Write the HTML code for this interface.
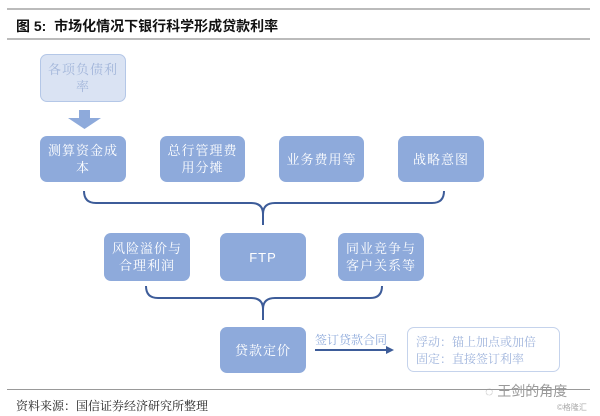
<!DOCTYPE html>
<html><head><meta charset="utf-8"><style>
body{margin:0;width:600px;height:416px;background:#fff;position:relative;overflow:hidden;font-family:"Liberation Sans","Noto Sans CJK SC",sans-serif}
.b{position:absolute;background:#8eaadb;border-radius:7px;color:#fff;font-family:"Liberation Serif","Noto Serif CJK SC",serif;font-size:13px;line-height:17px;display:flex;align-items:center;justify-content:center;text-align:center;letter-spacing:1px}
.t{position:absolute;white-space:nowrap}
</style></head><body>
<div style="position:absolute;left:7px;top:8px;width:583px;height:2px;background:#bbb"></div>
<div class="t" style="left:16px;top:16px;font-size:14px;font-weight:bold;color:#111">图 5:&nbsp; 市场化情况下银行科学形成贷款利率</div>
<div style="position:absolute;left:7px;top:38px;width:583px;height:2px;background:#bbb"></div>

<div class="b" style="left:40px;top:54px;width:84px;height:46px;background:#dae3f3;border:1px solid #b4c7e7;color:#a3b6da">各项负债利<br>率</div>
<svg style="position:absolute;left:0;top:0" width="600" height="416">
<polygon points="79,110 90,110 90,118 101,118 84.5,129 68,118 79,118" fill="#8eaadb"/>
<g fill="none" stroke="#3d5c99" stroke-width="2">
<path d="M84,191 Q84,203 96,203 L251,203 Q263,203 263,214 Q263,203 275,203 L432,203 Q444,203 444,191"/>
<line x1="263" y1="214" x2="263" y2="225"/>
<path d="M146,286 Q146,298 158,298 L251,298 Q263,298 263,309 Q263,298 275,298 L370,298 Q382,298 382,286"/>
<line x1="263" y1="309" x2="263" y2="320"/>
</g>
<line x1="315" y1="350" x2="388" y2="350" stroke="#3d5c99" stroke-width="2"/>
<polygon points="386,346 394,350 386,354" fill="#3d5c99"/>
</svg>
<div class="b" style="left:40px;top:136px;width:86px;height:46px">测算资金成<br>本</div>
<div class="b" style="left:160px;top:136px;width:85px;height:46px">总行管理费<br>用分摊</div>
<div class="b" style="left:279px;top:136px;width:85px;height:46px">业务费用等</div>
<div class="b" style="left:398px;top:136px;width:86px;height:46px">战略意图</div>
<div class="b" style="left:104px;top:233px;width:86px;height:48px">风险溢价与<br>合理利润</div>
<div class="b" style="left:220px;top:233px;width:86px;height:48px;font-family:'Liberation Sans',sans-serif">FTP</div>
<div class="b" style="left:338px;top:233px;width:86px;height:48px">同业竞争与<br>客户关系等</div>
<div class="b" style="left:220px;top:327px;width:86px;height:46px">贷款定价</div>
<div class="t" style="left:315px;top:331px;font-size:12px;color:#8eaadb;font-family:'Liberation Serif','Noto Serif CJK SC',serif">签订贷款合同</div>
<div style="position:absolute;left:407px;top:327px;width:153px;height:45px;border:1px solid #c5d3ec;border-radius:7px;color:#9fb4dc;font-size:12px;line-height:17px;font-family:'Liberation Serif','Noto Serif CJK SC',serif;padding:6px 0 0 8px;box-sizing:border-box">浮动：锚上加点或加倍<br>固定：直接签订利率</div>
<div style="position:absolute;left:7px;top:389px;width:583px;height:1px;background:#999"></div>
<div class="t" style="left:16px;top:397px;font-size:12px;color:#222;font-family:'Liberation Serif','Noto Serif CJK SC',serif">资料来源：国信证券经济研究所整理</div>
<div class="t" style="left:485px;top:381px;font-size:14px;color:#999">◌ 王剑的角度</div>
<div class="t" style="left:557px;top:402px;font-size:8px;color:#aaa">©格隆汇</div>
</body></html>
